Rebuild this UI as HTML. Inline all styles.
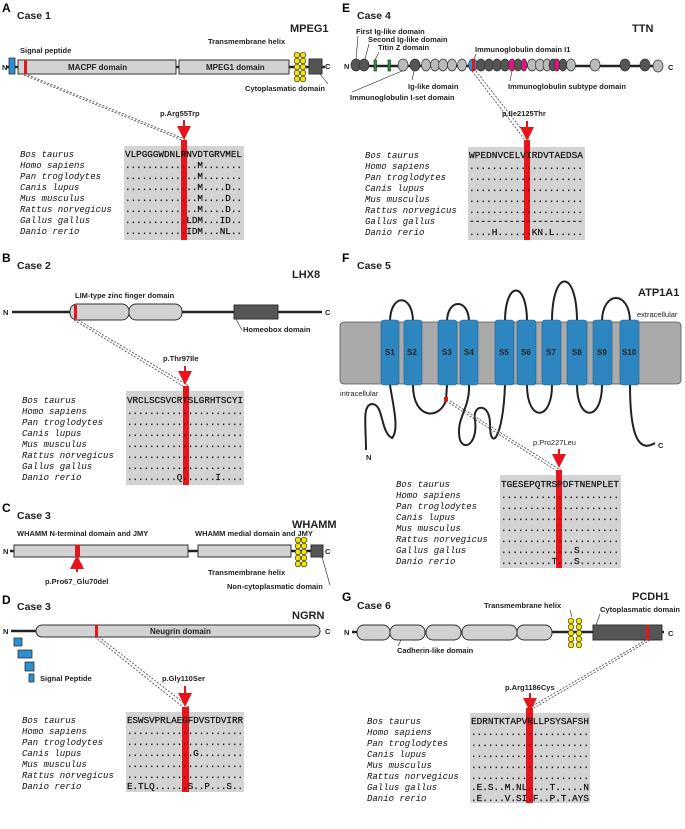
<!DOCTYPE html>
<html><head><meta charset="utf-8"><style>
html,body{margin:0;padding:0;background:#fff;}
svg{display:block;}
.L{font-family:"Liberation Sans",sans-serif;font-weight:bold;font-size:12px;}
.c{font-family:"Liberation Sans",sans-serif;font-weight:bold;font-size:10.5px;fill:#222;}
.g{font-family:"Liberation Sans",sans-serif;font-weight:bold;font-size:11px;fill:#222;}
.l{font-family:"Liberation Sans",sans-serif;font-size:7.5px;fill:#222;font-weight:bold;}
.sp{font-family:"Liberation Mono",monospace;font-style:italic;font-size:9px;fill:#111;}
.sq{font-family:"Liberation Mono",monospace;font-size:9px;fill:#111;stroke:#111;stroke-width:0.2;}
.bx{fill:#d2d2d2;stroke:#333;stroke-width:1;}
.ds{stroke:#555;stroke-width:0.9;stroke-dasharray:2,1.5;fill:none;}
.bb{stroke:#222;stroke-width:2.5;}
</style></head><body>
<svg width="685" height="829" viewBox="0 0 685 829" xmlns="http://www.w3.org/2000/svg">
<defs>
<marker id="ah" markerWidth="7" markerHeight="7" refX="3" refY="3.5" orient="auto"><path d="M0,0 L7,3.5 L0,7 z" fill="#e8141b"/></marker>
</defs>

<!-- ===== A ===== -->
<text class="L" x="2" y="12">A</text>
<text class="c" x="17" y="19">Case 1</text>
<text class="g" x="290" y="32">MPEG1</text>
<line class="bb" x1="6" y1="67" x2="325" y2="67"/>
<text class="l" x="2" y="70">N</text>
<rect x="9" y="58" width="6" height="16" fill="#2b8fd0" stroke="#333" stroke-width="0.8"/>
<rect class="bx" x="18" y="60" width="158" height="14"/>
<rect class="bx" x="179" y="60" width="110" height="14"/>
<text class="l" x="68" y="70" style="font-size:8px">MACPF domain</text>
<text class="l" x="206" y="70" style="font-size:8px">MPEG1 domain</text>
<rect x="24" y="60" width="3" height="14" fill="#e8141b"/>
<g fill="#f5e400" stroke="#333" stroke-width="0.7">
<circle cx="297" cy="55" r="2.8"/><circle cx="303" cy="55" r="2.8"/>
<circle cx="297" cy="61" r="2.8"/><circle cx="303" cy="61" r="2.8"/>
<circle cx="297" cy="67" r="2.8"/><circle cx="303" cy="67" r="2.8"/>
<circle cx="297" cy="73" r="2.8"/><circle cx="303" cy="73" r="2.8"/>
<circle cx="297" cy="79" r="2.8"/><circle cx="303" cy="79" r="2.8"/>
</g>
<rect x="309" y="59" width="13" height="15" fill="#555" stroke="#333"/>
<text class="l" x="325" y="69">C</text>
<text class="l" x="20" y="53">Signal peptide</text>
<text class="l" x="208" y="44">Transmembrane helix</text>
<text class="l" x="245" y="91">Cytoplasmatic domain</text>
<line x1="320" y1="74" x2="328" y2="84" stroke="#222" stroke-width="0.6"/>
<path class="ds" d="M24,75 L182,140 M28,75 L187,140"/>
<text class="l" x="160" y="116">p.Arg55Trp</text>
<line x1="184" y1="120" x2="184" y2="132" stroke="#e8141b" stroke-width="2" marker-end="url(#ah)"/>
<rect x="124" y="146" width="120" height="94" fill="#d3d3d3"/>
<rect x="181" y="140" width="6" height="100" fill="#e8141b"/>
<g class="sp"><text x="20" y="157">Bos taurus</text><text x="20" y="168">Homo sapiens</text><text x="20" y="179">Pan troglodytes</text><text x="20" y="190">Canis lupus</text><text x="20" y="201">Mus musculus</text><text x="20" y="212">Rattus norvegicus</text><text x="20" y="223">Gallus gallus</text><text x="20" y="234">Danio rerio</text></g>
<g class="sq">
<text x="125" y="157" textLength="117" lengthAdjust="spacingAndGlyphs">VLPGGGWDNLRNVDTGRVMEL</text>
<text x="125" y="168" textLength="117" lengthAdjust="spacingAndGlyphs">.............M.......</text>
<text x="125" y="179" textLength="117" lengthAdjust="spacingAndGlyphs">.............M.......</text>
<text x="125" y="190" textLength="117" lengthAdjust="spacingAndGlyphs">.............M....D..</text>
<text x="125" y="201" textLength="117" lengthAdjust="spacingAndGlyphs">.............M....D..</text>
<text x="125" y="212" textLength="117" lengthAdjust="spacingAndGlyphs">.............M....D..</text>
<text x="125" y="223" textLength="117" lengthAdjust="spacingAndGlyphs">...........LDM...ID..</text>
<text x="125" y="234" textLength="117" lengthAdjust="spacingAndGlyphs">...........IDM...NL..</text>
</g>

<!-- ===== B ===== -->
<text class="L" x="2" y="262">B</text>
<text class="c" x="17" y="269">Case 2</text>
<text class="g" x="292" y="278">LHX8</text>
<line class="bb" x1="12" y1="312" x2="322" y2="312"/>
<text class="l" x="3" y="315">N</text><text class="l" x="325" y="315">C</text>
<rect class="bx" x="70" y="304" width="59" height="16" rx="7"/>
<rect class="bx" x="129" y="304" width="53" height="16" rx="7"/>
<rect x="74" y="305" width="3" height="14" fill="#e8141b"/>
<rect x="234" y="305" width="44" height="14" fill="#555" stroke="#333"/>
<text class="l" x="75" y="298">LIM-type zinc finger domain</text>
<text class="l" x="243" y="332">Homeobox domain</text>
<line x1="236" y1="319" x2="242" y2="330" stroke="#222" stroke-width="0.6"/>
<path class="ds" d="M74,320 L183,386 M78,320 L189,386"/>
<text class="l" x="163" y="361">p.Thr97Ile</text>
<line x1="185" y1="366" x2="185" y2="377" stroke="#e8141b" stroke-width="2" marker-end="url(#ah)"/>
<rect x="126" y="391" width="118" height="94" fill="#d3d3d3"/>
<rect x="183" y="386" width="6" height="99" fill="#e8141b"/>
<g class="sp"><text x="22" y="403">Bos taurus</text><text x="22" y="414">Homo sapiens</text><text x="22" y="425">Pan troglodytes</text><text x="22" y="436">Canis lupus</text><text x="22" y="447">Mus musculus</text><text x="22" y="458">Rattus norvegicus</text><text x="22" y="469">Gallus gallus</text><text x="22" y="480">Danio rerio</text></g>
<g class="sq">
<text x="127" y="403" textLength="116" lengthAdjust="spacingAndGlyphs">VRCLSCSVCRTSLGRHTSCYI</text>
<text x="127" y="414" textLength="116" lengthAdjust="spacingAndGlyphs">.....................</text>
<text x="127" y="425" textLength="116" lengthAdjust="spacingAndGlyphs">.....................</text>
<text x="127" y="436" textLength="116" lengthAdjust="spacingAndGlyphs">.....................</text>
<text x="127" y="447" textLength="116" lengthAdjust="spacingAndGlyphs">.....................</text>
<text x="127" y="458" textLength="116" lengthAdjust="spacingAndGlyphs">.....................</text>
<text x="127" y="469" textLength="116" lengthAdjust="spacingAndGlyphs">.....................</text>
<text x="127" y="480" textLength="116" lengthAdjust="spacingAndGlyphs">.........Q......I....</text>
</g>

<!-- ===== C ===== -->
<text class="L" x="2" y="512">C</text>
<text class="c" x="17" y="519">Case 3</text>
<text class="g" x="292" y="528">WHAMM</text>
<line class="bb" x1="10" y1="551" x2="322" y2="551"/>
<text class="l" x="3" y="554">N</text><text class="l" x="325" y="554">C</text>
<rect class="bx" x="14" y="545" width="174" height="12"/>
<rect class="bx" x="198" y="545" width="93" height="12"/>
<rect x="75" y="545" width="5" height="12" fill="#e8141b"/>
<g fill="#f5e400" stroke="#333" stroke-width="0.7">
<circle cx="298" cy="540" r="2.8"/><circle cx="304" cy="540" r="2.8"/>
<circle cx="298" cy="546" r="2.8"/><circle cx="304" cy="546" r="2.8"/>
<circle cx="298" cy="552" r="2.8"/><circle cx="304" cy="552" r="2.8"/>
<circle cx="298" cy="558" r="2.8"/><circle cx="304" cy="558" r="2.8"/>
<circle cx="298" cy="564" r="2.8"/><circle cx="304" cy="564" r="2.8"/>
</g>
<rect x="311" y="545" width="12" height="12" fill="#555" stroke="#333"/>
<text class="l" x="17" y="536">WHAMM N-terminal domain and JMY</text>
<text class="l" x="195" y="536">WHAMM medial domain and JMY</text>
<line x1="77" y1="572" x2="77" y2="563" stroke="#e8141b" stroke-width="2" marker-end="url(#ah)"/>
<text class="l" x="45" y="584">p.Pro67_Glu70del</text>
<text class="l" x="208" y="575">Transmembrane helix</text>
<text class="l" x="227" y="589">Non-cytoplasmatic domain</text>
<line x1="322" y1="557" x2="330" y2="585" stroke="#222" stroke-width="0.6"/>

<!-- ===== D ===== -->
<text class="L" x="2" y="604">D</text>
<text class="c" x="17" y="610">Case 3</text>
<text class="g" x="292" y="619">NGRN</text>
<line class="bb" x1="11" y1="631" x2="38" y2="631"/>
<text class="l" x="3" y="634">N</text><text class="l" x="325" y="634">C</text>
<rect class="bx" x="36" y="625" width="284" height="12" rx="6"/>
<rect x="95" y="625" width="3" height="12" fill="#e8141b"/>
<text class="l" x="150" y="634" style="font-size:8px">Neugrin domain</text>
<g fill="#2b8fd0" stroke="#333" stroke-width="0.8">
<rect x="14" y="638" width="8" height="8"/><rect x="18" y="650" width="14" height="8"/><rect x="25" y="662" width="9" height="9"/><rect x="29" y="674" width="5" height="8"/>
</g>
<text class="l" x="40" y="681">Signal Peptide</text>
<path class="ds" d="M95,637 L183,707 M99,637 L189,707"/>
<text class="l" x="162" y="681">p.Gly110Ser</text>
<line x1="185" y1="686" x2="185" y2="699" stroke="#e8141b" stroke-width="2" marker-end="url(#ah)"/>
<rect x="126" y="712" width="118" height="80" fill="#d3d3d3"/>
<rect x="182" y="707" width="7" height="85" fill="#e8141b"/>
<g class="sp"><text x="22" y="723">Bos taurus</text><text x="22" y="734">Homo sapiens</text><text x="22" y="745">Pan troglodytes</text><text x="22" y="756">Canis lupus</text><text x="22" y="767">Mus musculus</text><text x="22" y="778">Rattus norvegicus</text><text x="22" y="789">Danio rerio</text></g>
<g class="sq">
<text x="127" y="723" textLength="116" lengthAdjust="spacingAndGlyphs">ESWSVPRLAEGFDVSTDVIRR</text>
<text x="127" y="734" textLength="116" lengthAdjust="spacingAndGlyphs">.....................</text>
<text x="127" y="745" textLength="116" lengthAdjust="spacingAndGlyphs">.....................</text>
<text x="127" y="756" textLength="116" lengthAdjust="spacingAndGlyphs">............G........</text>
<text x="127" y="767" textLength="116" lengthAdjust="spacingAndGlyphs">.....................</text>
<text x="127" y="778" textLength="116" lengthAdjust="spacingAndGlyphs">.....................</text>
<text x="127" y="789" textLength="116" lengthAdjust="spacingAndGlyphs">E.TLQ......S..P...S..</text>
</g>

<!-- ===== E ===== -->
<text class="L" x="342" y="12">E</text>
<text class="c" x="357" y="19">Case 4</text>
<text class="g" x="632" y="32">TTN</text>
<line class="bb" x1="352" y1="66" x2="660" y2="66"/>
<text class="l" x="344" y="69">N</text><text class="l" x="668" y="70">C</text>
<g stroke="#333" stroke-width="0.7">
<ellipse cx="356" cy="65" rx="5" ry="6" fill="#555"/><ellipse cx="364" cy="65" rx="5" ry="6" fill="#555"/>
<rect x="374" y="60" width="2.5" height="11" fill="#1a9a3a"/><rect x="388" y="60" width="2.5" height="11" fill="#1a9a3a"/>
<ellipse cx="403" cy="65" rx="5" ry="6" fill="#bbb"/><ellipse cx="415" cy="65" rx="5" ry="6" fill="#555"/>
<ellipse cx="426" cy="65" rx="4.5" ry="6" fill="#bbb"/><ellipse cx="435" cy="65" rx="4.5" ry="6" fill="#bbb"/><ellipse cx="443" cy="65" rx="4.5" ry="6" fill="#bbb"/>
<ellipse cx="452" cy="65" rx="4.5" ry="6" fill="#bbb"/><ellipse cx="462" cy="65" rx="4.5" ry="6" fill="#bbb"/>
<ellipse cx="473" cy="65" rx="4.5" ry="6" fill="#2b8fd0"/>
<ellipse cx="481" cy="65" rx="4.5" ry="6" fill="#555"/><ellipse cx="489" cy="65" rx="4.5" ry="6" fill="#555"/><ellipse cx="497" cy="65" rx="4.5" ry="6" fill="#555"/><ellipse cx="505" cy="65" rx="4.5" ry="6" fill="#555"/>
<ellipse cx="512" cy="65" rx="3.5" ry="6" fill="#e0157f"/><ellipse cx="518" cy="65" rx="4" ry="6" fill="#555"/>
<ellipse cx="524" cy="65" rx="3" ry="6" fill="#e0157f"/>
<ellipse cx="532" cy="65" rx="4.5" ry="6" fill="#bbb"/><ellipse cx="540" cy="65" rx="4.5" ry="6" fill="#bbb"/><ellipse cx="547" cy="65" rx="4" ry="6" fill="#bbb"/>
<ellipse cx="553" cy="65" rx="4" ry="6" fill="#555"/><ellipse cx="557" cy="65" rx="3" ry="6" fill="#e0157f"/><ellipse cx="563" cy="65" rx="4" ry="6" fill="#555"/>
<ellipse cx="571" cy="65" rx="4.5" ry="6" fill="#bbb"/><ellipse cx="595" cy="65" rx="5" ry="6" fill="#bbb"/>
<ellipse cx="625" cy="65" rx="5" ry="6" fill="#555"/><ellipse cx="645" cy="65" rx="5" ry="6" fill="#555"/><ellipse cx="658" cy="66" rx="5" ry="6" fill="#bbb"/>
</g>
<rect x="472" y="59" width="3" height="12" fill="#e8141b"/>
<text class="l" x="356" y="34">First Ig-like domain</text>
<text class="l" x="368" y="42">Second Ig-like domain</text>
<text class="l" x="378" y="50">Titin Z domain</text>
<text class="l" x="475" y="52">Immunoglobulin domain I1</text>
<text class="l" x="408" y="89">Ig-like domain</text>
<text class="l" x="350" y="100">Immunoglobulin I-set domain</text>
<text class="l" x="508" y="89">Immunoglobulin subtype domain</text>
<g stroke="#222" stroke-width="0.6">
<line x1="358" y1="36" x2="356" y2="59"/><line x1="369" y1="44" x2="365" y2="59"/><line x1="379" y1="52" x2="375" y2="60"/>
<line x1="476" y1="54" x2="474" y2="59"/><line x1="412" y1="80" x2="414" y2="71"/><line x1="352" y1="92" x2="402" y2="71"/><line x1="510" y1="81" x2="512" y2="71"/>
</g>
<path class="ds" d="M472,71 L525,140 M476,71 L530,140"/>
<text class="l" x="502" y="116">p.Ile2125Thr</text>
<line x1="527" y1="121" x2="527" y2="133" stroke="#e8141b" stroke-width="2" marker-end="url(#ah)"/>
<rect x="468" y="147" width="117" height="93" fill="#d3d3d3"/>
<rect x="524" y="140" width="6" height="100" fill="#e8141b"/>
<g class="sp"><text x="365" y="158">Bos taurus</text><text x="365" y="169">Homo sapiens</text><text x="365" y="180">Pan troglodytes</text><text x="365" y="191">Canis lupus</text><text x="365" y="202">Mus musculus</text><text x="365" y="213">Rattus norvegicus</text><text x="365" y="224">Gallus gallus</text><text x="365" y="235">Danio rerio</text></g>
<g class="sq">
<text x="469" y="158" textLength="114" lengthAdjust="spacingAndGlyphs">WPEDNVCELVIRDVTAEDSA</text>
<text x="469" y="169" textLength="114" lengthAdjust="spacingAndGlyphs">....................</text>
<text x="469" y="180" textLength="114" lengthAdjust="spacingAndGlyphs">....................</text>
<text x="469" y="191" textLength="114" lengthAdjust="spacingAndGlyphs">....................</text>
<text x="469" y="202" textLength="114" lengthAdjust="spacingAndGlyphs">....................</text>
<text x="469" y="213" textLength="114" lengthAdjust="spacingAndGlyphs">....................</text>
<text x="469" y="224" textLength="114" lengthAdjust="spacingAndGlyphs">--------------------</text>
<text x="469" y="235" textLength="114" lengthAdjust="spacingAndGlyphs">....H......KN.L.....</text>
</g>

<!-- ===== F ===== -->
<text class="L" x="342" y="262">F</text>
<text class="c" x="357" y="269">Case 5</text>
<text class="g" x="638" y="296">ATP1A1</text>
<rect x="340" y="322" width="341" height="62" rx="4" fill="#aaa" stroke="#555" stroke-width="0.8"/>
<g fill="none" stroke="#222" stroke-width="2">
<path d="M390,322 C390,293 413,293 413,322"/>
<path d="M447,322 C447,298 469,298 469,322"/>
<path d="M505,322 C505,280 527,280 527,322"/>
<path d="M552,322 C552,268 577,268 577,322"/>
<path d="M602,322 C602,290 630,290 630,322"/>
<path d="M366,450 C366,425 362,405 372,404 C384,404 380,432 392,438 C400,430 392,400 390,385"/>
<path d="M413,385 C413,420 440,420 446,400 L447,385"/>
<path d="M469,385 C470,410 455,418 460,440 C465,452 478,442 475,420 C472,404 490,402 490,424 C490,452 503,440 505,385"/>
<path d="M527,385 C527,422 552,422 552,385"/>
<path d="M577,385 C577,422 602,422 602,385"/>
<path d="M630,385 C630,440 640,452 655,443"/>
</g>
<g fill="#2e86c1" stroke="#1d5f8a" stroke-width="0.6">
<rect x="381" y="320" width="18" height="65" rx="3"/><rect x="404" y="320" width="18" height="65" rx="3"/>
<rect x="438" y="320" width="19" height="65" rx="3"/><rect x="460" y="320" width="18" height="65" rx="3"/>
<rect x="495" y="320" width="19" height="65" rx="3"/><rect x="517" y="320" width="19" height="65" rx="3"/>
<rect x="542" y="320" width="19" height="65" rx="3"/><rect x="567" y="320" width="20" height="65" rx="3"/>
<rect x="593" y="320" width="19" height="65" rx="3"/><rect x="620" y="320" width="19" height="65" rx="3"/>
</g>
<g class="l" style="font-size:8px"><text x="385" y="355">S1</text><text x="407" y="355">S2</text><text x="442" y="355">S3</text><text x="464" y="355">S4</text><text x="499" y="355">S5</text><text x="521" y="355">S6</text><text x="546" y="355">S7</text><text x="572" y="355">S8</text><text x="597" y="355">S9</text><text x="622" y="355">S10</text></g>
<text class="l" x="637" y="317" style="font-weight:normal">extracellular</text>
<text class="l" x="340" y="396" style="font-weight:normal">intracellular</text>
<text class="l" x="366" y="460">N</text><text class="l" x="658" y="448">C</text>
<rect x="444" y="397" width="4" height="4" fill="#e8141b"/>
<path class="ds" d="M446,401 L557,471 M450,401 L562,471"/>
<text class="l" x="533" y="445" style="font-weight:normal">p.Pro227Leu</text>
<line x1="559" y1="449" x2="559" y2="460" stroke="#e8141b" stroke-width="2" marker-end="url(#ah)"/>
<rect x="500" y="475" width="121" height="93" fill="#d3d3d3"/>
<rect x="556" y="470" width="6" height="98" fill="#e8141b"/>
<g class="sp"><text x="396" y="487">Bos taurus</text><text x="396" y="498">Homo sapiens</text><text x="396" y="509">Pan troglodytes</text><text x="396" y="520">Canis lupus</text><text x="396" y="531">Mus musculus</text><text x="396" y="542">Rattus norvegicus</text><text x="396" y="553">Gallus gallus</text><text x="396" y="564">Danio rerio</text></g>
<g class="sq">
<text x="501" y="487" textLength="118" lengthAdjust="spacingAndGlyphs">TGESEPQTRSPDFTNENPLET</text>
<text x="501" y="498" textLength="118" lengthAdjust="spacingAndGlyphs">.....................</text>
<text x="501" y="509" textLength="118" lengthAdjust="spacingAndGlyphs">.....................</text>
<text x="501" y="520" textLength="118" lengthAdjust="spacingAndGlyphs">.....................</text>
<text x="501" y="531" textLength="118" lengthAdjust="spacingAndGlyphs">.....................</text>
<text x="501" y="542" textLength="118" lengthAdjust="spacingAndGlyphs">.....................</text>
<text x="501" y="553" textLength="118" lengthAdjust="spacingAndGlyphs">.............S.......</text>
<text x="501" y="564" textLength="118" lengthAdjust="spacingAndGlyphs">.........T...S.......</text>
</g>

<!-- ===== G ===== -->
<text class="L" x="342" y="601">G</text>
<text class="c" x="357" y="609">Case 6</text>
<text class="g" x="632" y="600">PCDH1</text>
<line class="bb" x1="352" y1="632" x2="664" y2="632"/>
<text class="l" x="344" y="635">N</text><text class="l" x="668" y="636">C</text>
<g class="bx">
<rect x="357" y="625" width="33" height="15" rx="7"/><rect x="390" y="625" width="35" height="15" rx="7"/><rect x="426" y="625" width="35" height="15" rx="7"/><rect x="462" y="625" width="55" height="15" rx="7"/><rect x="517" y="625" width="35" height="15" rx="7"/>
</g>
<g fill="#f5e400" stroke="#333" stroke-width="0.7">
<circle cx="571" cy="621" r="2.8"/><circle cx="579" cy="621" r="2.8"/>
<circle cx="571" cy="627" r="2.8"/><circle cx="579" cy="627" r="2.8"/>
<circle cx="571" cy="633" r="2.8"/><circle cx="579" cy="633" r="2.8"/>
<circle cx="571" cy="639" r="2.8"/><circle cx="579" cy="639" r="2.8"/>
<circle cx="571" cy="645" r="2.8"/><circle cx="579" cy="645" r="2.8"/>
</g>
<rect x="593" y="625" width="69" height="15" fill="#555" stroke="#333"/>
<rect x="646" y="625" width="3" height="15" fill="#e8141b"/>
<text class="l" x="484" y="608">Transmembrane helix</text>
<text class="l" x="600" y="612">Cytoplasmatic domain</text>
<text class="l" x="397" y="653">Cadherin-like domain</text>
<g stroke="#222" stroke-width="0.6"><line x1="570" y1="610" x2="572" y2="617"/><line x1="600" y1="614" x2="596" y2="625"/><line x1="398" y1="646" x2="401" y2="640"/></g>
<path class="ds" d="M646,640 L529,708 M650,640 L534,708"/>
<text class="l" x="505" y="690">p.Arg1186Cys</text>
<line x1="530" y1="693" x2="530" y2="704" stroke="#e8141b" stroke-width="2" marker-end="url(#ah)"/>
<rect x="470" y="713" width="120" height="90" fill="#d3d3d3"/>
<rect x="526" y="708" width="7" height="95" fill="#e8141b"/>
<g class="sp"><text x="367" y="724">Bos taurus</text><text x="367" y="735">Homo sapiens</text><text x="367" y="746">Pan troglodytes</text><text x="367" y="757">Canis lupus</text><text x="367" y="768">Mus musculus</text><text x="367" y="779">Rattus norvegicus</text><text x="367" y="790">Gallus gallus</text><text x="367" y="801">Danio rerio</text></g>
<g class="sq">
<text x="471" y="724" textLength="118" lengthAdjust="spacingAndGlyphs">EDRNTKTAPVRLLPSYSAFSH</text>
<text x="471" y="735" textLength="118" lengthAdjust="spacingAndGlyphs">.....................</text>
<text x="471" y="746" textLength="118" lengthAdjust="spacingAndGlyphs">.....................</text>
<text x="471" y="757" textLength="118" lengthAdjust="spacingAndGlyphs">.....................</text>
<text x="471" y="768" textLength="118" lengthAdjust="spacingAndGlyphs">.....................</text>
<text x="471" y="779" textLength="118" lengthAdjust="spacingAndGlyphs">.....................</text>
<text x="471" y="790" textLength="118" lengthAdjust="spacingAndGlyphs">.E.S..M.NL....T.....N</text>
<text x="471" y="801" textLength="118" lengthAdjust="spacingAndGlyphs">.E....V.SI.F..P.T.AYS</text>
</g>
</svg>
</body></html>
